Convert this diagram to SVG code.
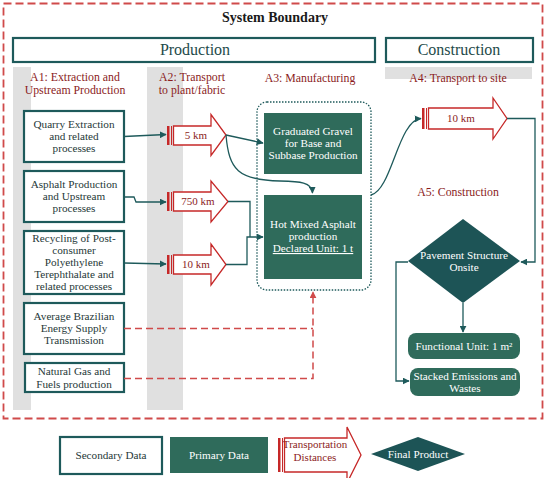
<svg xmlns="http://www.w3.org/2000/svg" width="550" height="478" viewBox="0 0 550 478">
<defs>
<style>
text{font-family:"Liberation Serif","Times New Roman",serif;}
.sec{fill:#fff;stroke:#1e5a5b;stroke-width:2.2;}
.pri{fill:#2f6b5b;}
.st{font-size:11.2px;fill:#263838;text-anchor:middle;}
.pt{font-size:11.2px;fill:#fff;text-anchor:middle;}
.lab{font-size:11.8px;fill:#8b1c1c;text-anchor:middle;}
.hdr{fill:#fff;stroke:#1e5a5b;stroke-width:2.2;}
.ht{font-size:16px;fill:#1e4a4a;text-anchor:middle;}
.gray{fill:#e0e0e0;}
.arr{fill:#fff;stroke:#c62828;stroke-width:1.3;}
.at{font-size:11px;fill:#8b1c1c;text-anchor:middle;}
.con{fill:none;stroke:#1e5a5b;stroke-width:1.3;}
.red{fill:none;stroke:#d04a4a;stroke-width:1.5;stroke-dasharray:7,4;}
</style>
<marker id="ah" viewBox="0 0 10 10" refX="9" refY="5" markerWidth="7" markerHeight="7" orient="auto" markerUnits="userSpaceOnUse">
<path d="M0,0 L10,5 L0,10 Z" fill="#1e5a5b"/>
</marker>
<marker id="ahr" viewBox="0 0 10 10" refX="9" refY="5" markerWidth="7" markerHeight="7" orient="auto" markerUnits="userSpaceOnUse">
<path d="M0,0 L10,5 L0,10 Z" fill="#d04a4a"/>
</marker>
</defs>
<rect width="550" height="478" fill="#fff"/>

<g id="boundary">
<rect x="3.5" y="3.5" width="539" height="415" fill="none" stroke="#d04a4a" stroke-width="1.8" stroke-dasharray="8,4"/>
<text x="275" y="22" font-size="14" font-weight="bold" text-anchor="middle" fill="#1a1a1a">System Boundary</text>
</g>

<g id="columns">
<rect class="gray" x="13" y="67" width="18" height="343"/>
<rect class="gray" x="147" y="67" width="36" height="343"/>
<rect class="gray" x="385" y="67" width="147" height="12"/>
</g>

<g id="production-header">
<rect class="hdr" x="13" y="38" width="362" height="24"/>
<text class="ht" x="195" y="55">Production</text>
</g>
<g id="construction-header">
<rect class="hdr" x="386" y="38" width="147" height="24"/>
<text class="ht" x="459" y="55">Construction</text>
</g>

<g id="labels">
<text class="lab" x="75" y="81">A1: Extraction and</text>
<text class="lab" x="75" y="93.5">Upstream Production</text>
<text class="lab" x="192" y="81">A2: Transport</text>
<text class="lab" x="192" y="93.5">to plant/fabric</text>
<text class="lab" x="310" y="82">A3: Manufacturing</text>
<text class="lab" x="458" y="82">A4: Transport to site</text>
<text class="lab" x="458" y="196">A5: Construction</text>
</g>

<g id="a3-container">
<rect x="257" y="102" width="114" height="188" rx="10" fill="none" stroke="#1e5a5b" stroke-width="1.3" stroke-dasharray="1.5,1.5"/>
</g>

<g id="quarry">
<rect class="sec" x="24" y="111" width="100" height="51"/>
<text class="st" x="74" y="128">Quarry Extraction</text>
<text class="st" x="74" y="140">and related</text>
<text class="st" x="74" y="152">processes</text>
</g>
<g id="asphalt">
<rect class="sec" x="24" y="171" width="100" height="51"/>
<text class="st" x="74" y="188">Asphalt Production</text>
<text class="st" x="74" y="200">and Upstream</text>
<text class="st" x="74" y="212">processes</text>
</g>
<g id="recycling">
<rect class="sec" x="24" y="231" width="100" height="63"/>
<text class="st" x="74" y="242">Recycling of Post-</text>
<text class="st" x="74" y="254">consumer</text>
<text class="st" x="74" y="266">Polyethylene</text>
<text class="st" x="74" y="278">Terephthalate and</text>
<text class="st" x="74" y="290">related processes</text>
</g>
<g id="energy">
<rect class="sec" x="24" y="303" width="100" height="51"/>
<text class="st" x="74" y="320">Average Brazilian</text>
<text class="st" x="74" y="332">Energy Supply</text>
<text class="st" x="74" y="344">Transmission</text>
</g>
<g id="gas">
<rect class="sec" x="25" y="363" width="99" height="29"/>
<text class="st" x="74" y="375">Natural Gas and</text>
<text class="st" x="74" y="388">Fuels production</text>
</g>

<g id="t5km">
<rect x="167" y="126" width="2.5" height="19" fill="#c62828"/>
<line x1="171.5" y1="126" x2="171.5" y2="145" stroke="#c62828" stroke-width="1"/>
<path class="arr" d="M173.5,126 L211,126 L211,114.5 L226,135 L211,155.5 L211,145 L173.5,145 Z"/>
<text class="at" x="196" y="139">5 km</text>
</g>
<g id="t750km">
<rect x="167" y="192" width="2.5" height="19" fill="#c62828"/>
<line x1="171.5" y1="192" x2="171.5" y2="211" stroke="#c62828" stroke-width="1"/>
<path class="arr" d="M173.5,192 L211,192 L211,181 L228,201.5 L211,222 L211,211 L173.5,211 Z"/>
<text class="at" x="198" y="205">750 km</text>
</g>
<g id="t10km">
<rect x="167" y="255" width="2.5" height="19" fill="#c62828"/>
<line x1="171.5" y1="255" x2="171.5" y2="274" stroke="#c62828" stroke-width="1"/>
<path class="arr" d="M173.5,255 L211,255 L211,244 L226,264.5 L211,285 L211,274 L173.5,274 Z"/>
<text class="at" x="196" y="268">10 km</text>
</g>

<g id="gravel">
<rect class="pri" x="264" y="113" width="98" height="61"/>
<text class="pt" x="313" y="135">Graduated Gravel</text>
<text class="pt" x="313" y="147">for Base and</text>
<text class="pt" x="313" y="159">Subbase Production</text>
</g>
<g id="hma">
<rect class="pri" x="264" y="195" width="98" height="84"/>
<text class="pt" x="313" y="228">Hot Mixed Asphalt</text>
<text class="pt" x="313" y="240">production</text>
<text class="pt" x="313" y="252" text-decoration="underline">Declared Unit: 1 t</text>
</g>

<g id="t10km-site">
<rect x="422" y="108" width="2.5" height="21" fill="#c62828"/>
<line x1="426.5" y1="108" x2="426.5" y2="129" stroke="#c62828" stroke-width="1"/>
<path class="arr" d="M428.5,108 L493,108 L493,98 L507,118.5 L493,139 L493,129 L428.5,129 Z"/>
<text class="at" x="461" y="122">10 km</text>
</g>

<g id="pavement">
<path d="M463,219 L520,261 L463,303 L408,261 Z" fill="#1d5456"/>
<text class="pt" x="464" y="259">Pavement Structure</text>
<text class="pt" x="464" y="271">Onsite</text>
</g>
<g id="functional">
<rect class="pri" x="408" y="333" width="112" height="26" rx="8"/>
<text class="pt" x="464" y="350">Functional Unit: 1 m²</text>
</g>
<g id="emissions">
<rect class="pri" x="410" y="368" width="110" height="28" rx="8"/>
<text class="pt" x="465" y="380">Stacked Emissions and</text>
<text class="pt" x="465" y="392">Wastes</text>
</g>

<g id="connectors">
<path class="con" d="M124,136.5 L166,134.5" marker-end="url(#ah)"/>
<path class="con" d="M226,135 L263,143" marker-end="url(#ah)"/>
<path class="con" d="M226,135 C229,170 238,180 280,181 C300,181.5 312,182 312.5,193" marker-end="url(#ah)"/>
<path class="con" d="M124,197 L134,197 L136,202 L166,202" marker-end="url(#ah)"/>
<path class="con" d="M124,263 L166,264" marker-end="url(#ah)"/>
<path class="con" d="M228,201.5 L250,201.5 L250,237"/>
<path class="con" d="M226,264.5 L247,264.5 L247,237 L263,237" marker-end="url(#ah)"/>
<path class="con" d="M371,195 C392,190 398,120 421,118.5" marker-end="url(#ah)"/>
<path class="con" d="M507,118.5 L535,118.5 L535,262 L521,262" marker-end="url(#ah)"/>
<path class="con" d="M463,303 L463,332" marker-end="url(#ah)"/>
<path class="con" d="M408,262 L396,262 L396,381 L409,381" marker-end="url(#ah)"/>
<path class="red" d="M124,328.5 L313,328.5"/>
<path class="red" d="M124,378.5 L313,378.5 L313,292" marker-end="url(#ahr)"/>
</g>

<g id="legend">
<g id="legend-secondary">
<rect class="sec" x="60" y="437" width="102" height="37"/>
<text class="st" x="111" y="459">Secondary Data</text>
</g>
<g id="legend-primary">
<rect class="pri" x="170" y="437" width="98" height="36"/>
<text class="pt" x="219" y="459">Primary Data</text>
</g>
<g id="legend-transport">
<rect x="278" y="438" width="2.5" height="34" fill="#c62828"/>
<line x1="282.5" y1="438" x2="282.5" y2="472" stroke="#c62828" stroke-width="1"/>
<path class="arr" d="M284.5,438 L347,438 L347,427 L361,455 L347,483 L347,472 L284.5,472 Z"/>
<text class="at" x="315" y="448" font-size="11.5">Transportation</text>
<text class="at" x="315" y="461" font-size="11.5">Distances</text>
</g>
<g id="legend-final">
<path d="M418,437 L465,454 L418,471 L371,454 Z" fill="#1d5456"/>
<text class="pt" x="418" y="458">Final Product</text>
</g>
</g>
</svg>
